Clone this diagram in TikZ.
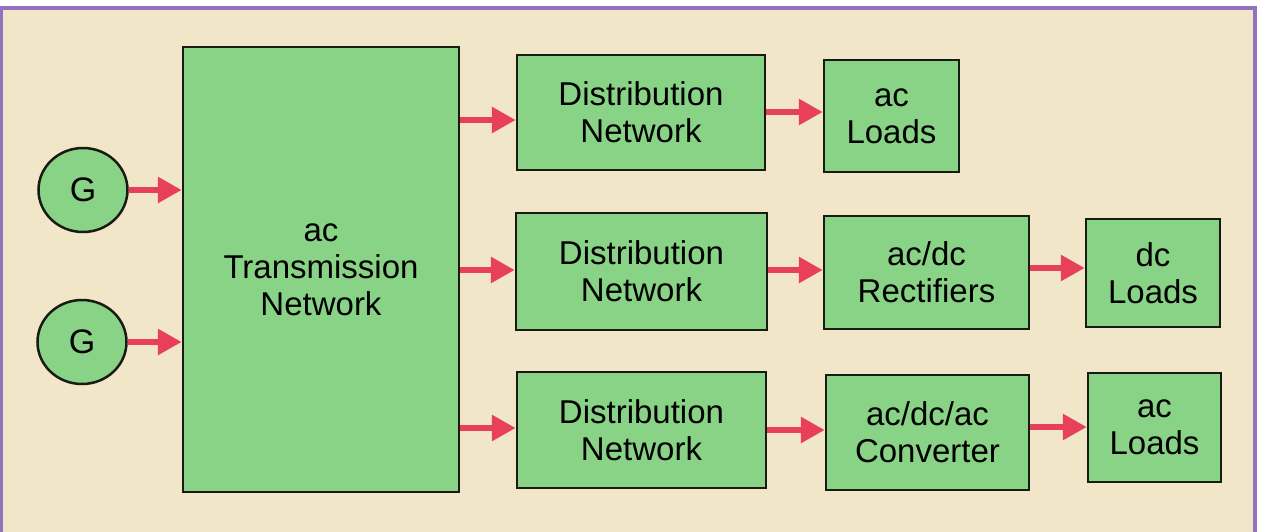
\documentclass[tikz,border=0pt]{standalone}
\usepackage{fontspec}
\setmainfont{Liberation Sans}
\usetikzlibrary{arrows.meta,shapes.geometric}
\definecolor{bgbeige}{HTML}{F2E6C9}
\definecolor{boxgreen}{HTML}{88D385}
\definecolor{framepurple}{HTML}{9470C0}
\definecolor{arrred}{HTML}{E8405A}
\definecolor{edgedark}{HTML}{1A1A14}
\tikzset{
  blk/.style={draw=edgedark, line width=2.5pt, fill=boxgreen, inner sep=0pt, align=center,
    font=\fontsize{33}{37}\selectfont},
  gen/.style={draw=edgedark, line width=2.5pt, fill=boxgreen, ellipse, minimum width=89pt, minimum height=84pt, inner sep=0pt,
    font=\fontsize{34}{38}\selectfont},
  arr/.style={draw=arrred, line width=6pt, -{Triangle[length=24pt,width=25pt]}, shorten >=0pt}
}
\begin{document}
\begin{tikzpicture}[x=1pt,y=-1pt]
\useasboundingbox (0,0) rectangle (1261,531);
\fill[white] (0,0) rectangle (1261,531);
\begin{scope}
\clip (0,0) rectangle (1261,531);
\draw[framepurple, line width=4pt, fill=bgbeige] (1,8) rectangle (1255,540);
\end{scope}
% generators
\node[gen] (g1) at (83,190) {G};
\node[gen] (g2) at (82,342) {G};
% main box
\node[blk, minimum width=276pt, minimum height=445pt] (tx) at (321,269.5) {ac\\Transmission\\Network};
% row 1
\node[blk, minimum width=248pt, minimum height=115pt] (d1) at (641,112.5) {Distribution\\Network};
\node[blk, minimum width=135pt, minimum height=112pt] (l1) at (891.5,116) {ac\\Loads};
% row 2
\node[blk, minimum width=251pt, minimum height=117pt] (d2) at (641.5,271.5) {Distribution\\Network};
\node[blk, minimum width=205pt, minimum height=113pt] (r2) at (926.5,272.5) {ac/dc\\Rectifiers};
\node[blk, minimum width=134pt, minimum height=108pt] (l2) at (1153,273) {dc\\Loads};
% row 3
\node[blk, minimum width=249pt, minimum height=116pt] (d3) at (641.5,430) {Distribution\\Network};
\node[blk, minimum width=203pt, minimum height=115pt] (c3) at (927.5,432.5) {ac/dc/ac\\Converter};
\node[blk, minimum width=133pt, minimum height=109pt] (l3) at (1154.5,427.5) {ac\\Loads};
% arrows
\draw[arr] (g1.east) -- (tx.west |- g1.east);
\draw[arr] (g2.east) -- (tx.west |- g2.east);
\draw[arr] (tx.east |- 0,120) -- (d1.west |- 0,120);
\draw[arr] (tx.east |- 0,270) -- (d2.west |- 0,270);
\draw[arr] (tx.east |- 0,428) -- (d3.west |- 0,428);
\draw[arr] (d1.east |- 0,112) -- (l1.west |- 0,112);
\draw[arr] (d2.east |- 0,270) -- (r2.west |- 0,270);
\draw[arr] (r2.east |- 0,268) -- (l2.west |- 0,268);
\draw[arr] (d3.east |- 0,430) -- (c3.west |- 0,430);
\draw[arr] (c3.east |- 0,427) -- (l3.west |- 0,427);
\end{tikzpicture}
\end{document}
